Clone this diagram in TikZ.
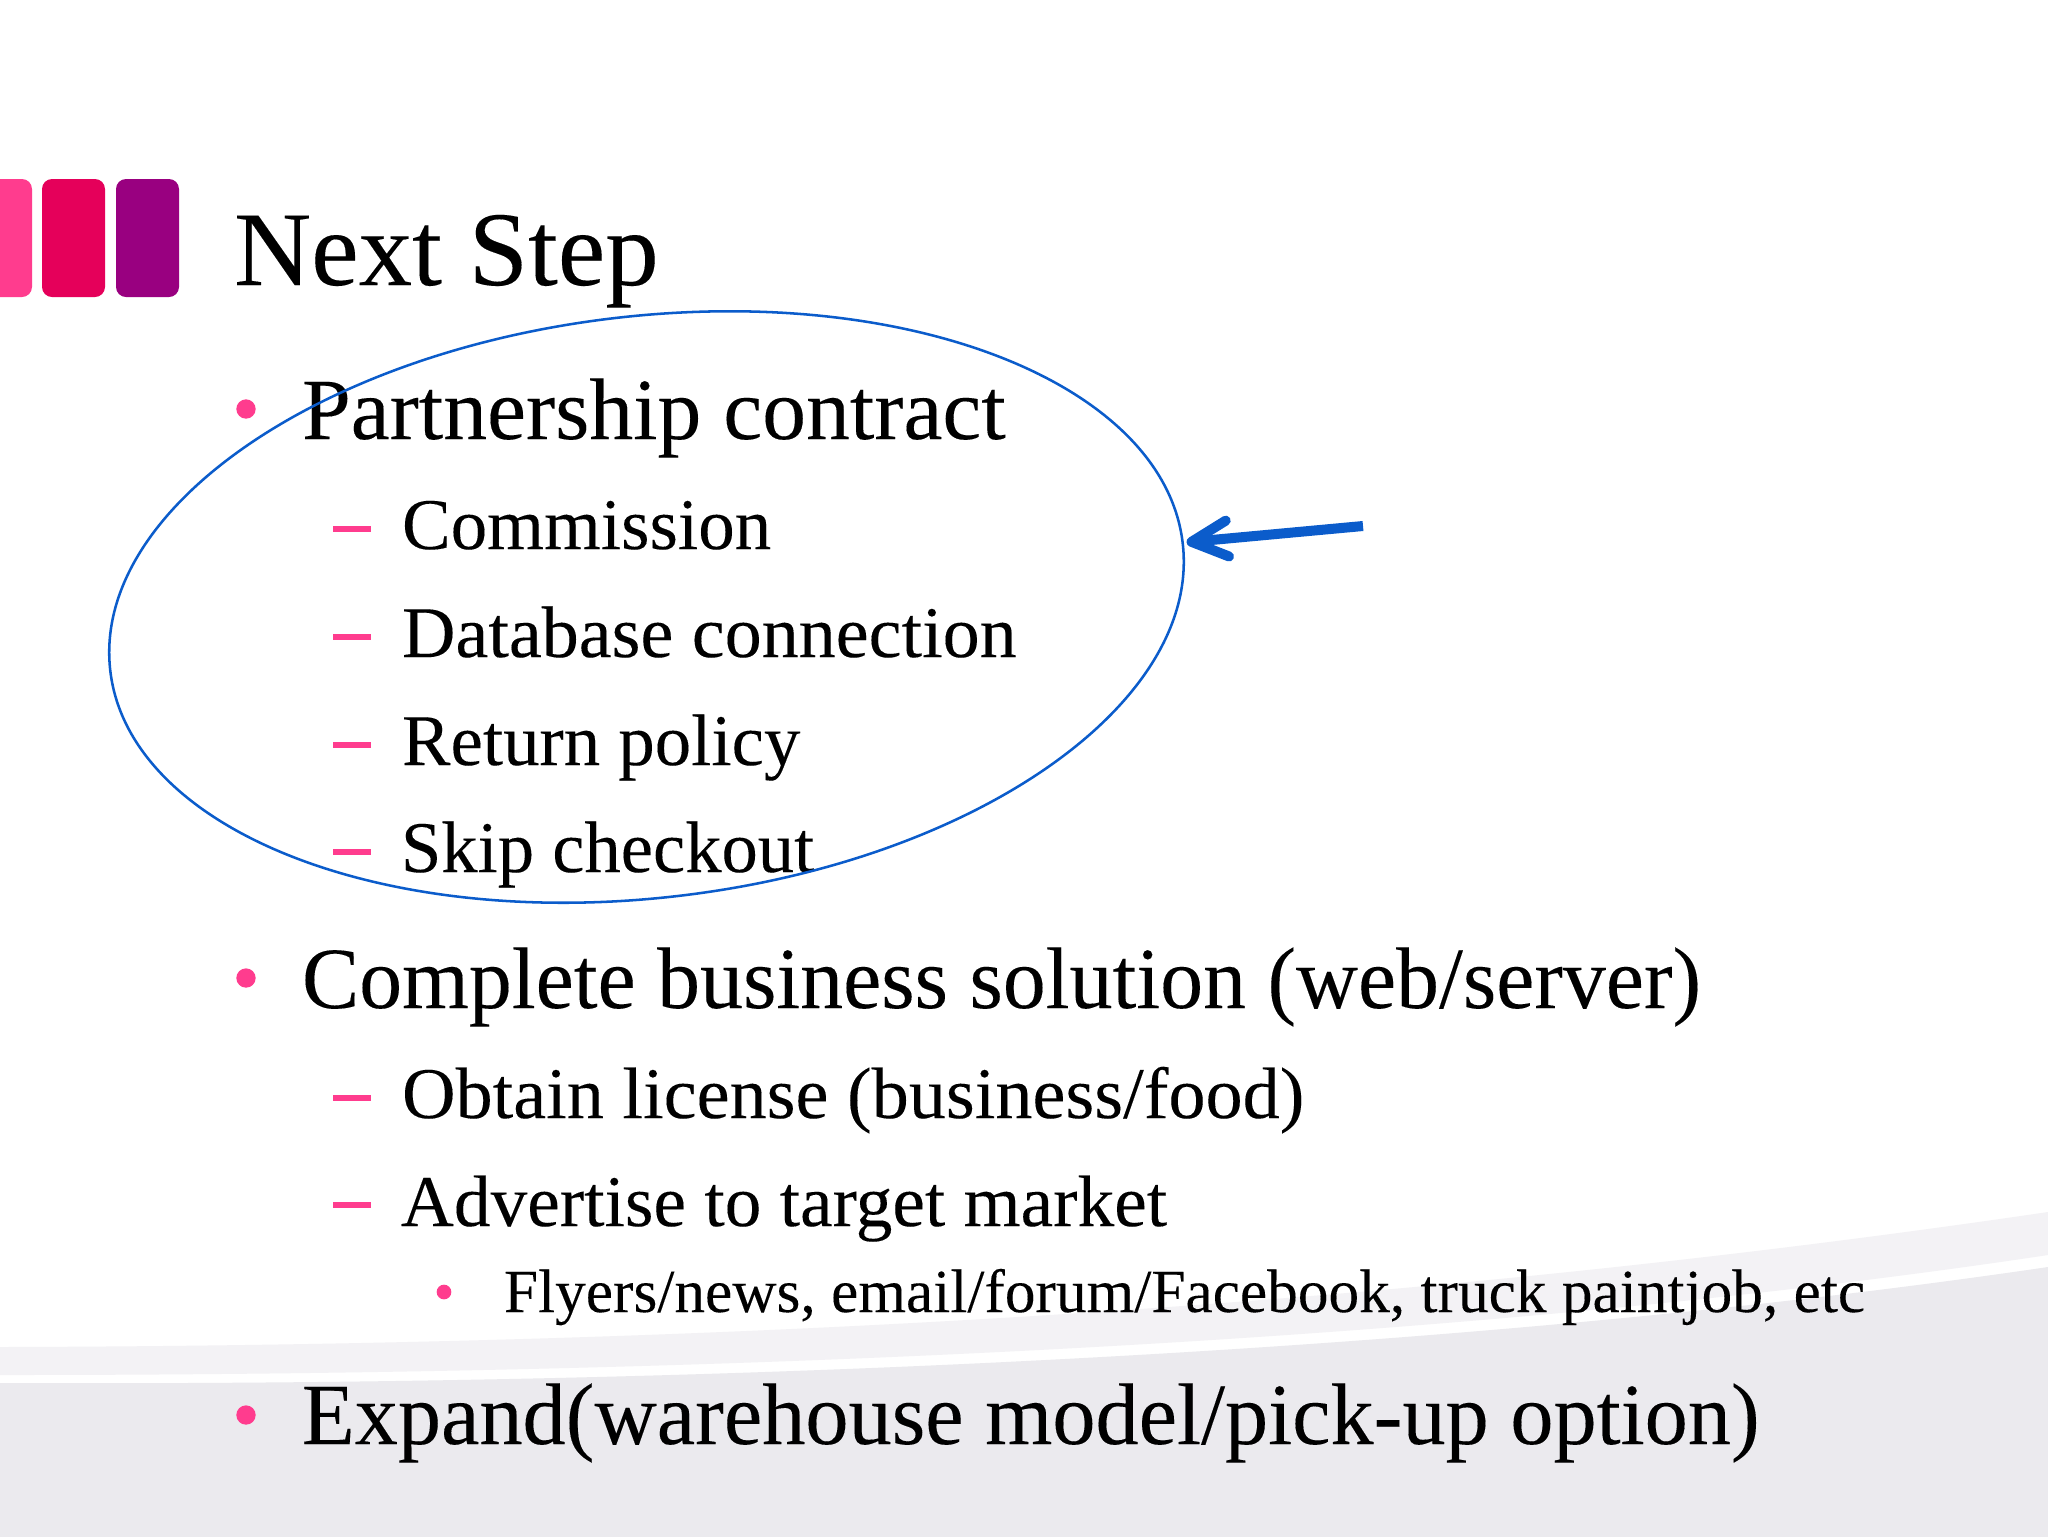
\documentclass[tikz,border=0pt]{standalone}
\usepackage{fontspec}
\setmainfont[FakeBold=0.12]{Liberation Serif}
\usetikzlibrary{shapes.geometric,arrows.meta}
\definecolor{pinkc}{HTML}{FF3C8E}
\definecolor{crimc}{HTML}{E5005A}
\definecolor{purpc}{HTML}{990080}
\definecolor{bluec}{HTML}{0B5CCB}
\definecolor{wavedark}{HTML}{EBEAEE}
\definecolor{wavelight}{HTML}{F3F2F5}
\newcommand{\fitx}[2]{\scalebox{#1}[1]{#2}}
\tikzset{
  x=0.75pt,y=-0.75pt,
  txt/.style={anchor=base west,inner sep=0pt,outer sep=0pt,text=black},
  titletxt/.style={txt,font=\fontsize{79.5pt}{80pt}\selectfont},
  lone/.style={txt,font=\fontsize{65.5pt}{66pt}\selectfont},
  ltwo/.style={txt,font=\fontsize{54.6pt}{55pt}\selectfont},
  lthree/.style={txt,font=\fontsize{46pt}{47pt}\selectfont},
  bulletbig/.style={circle,fill=pinkc,inner sep=0pt,minimum size=14.5pt},
  bulletsmall/.style={circle,fill=pinkc,inner sep=0pt,minimum size=11pt},
  dashmark/.style={rectangle,fill=pinkc,inner sep=0pt,minimum width=29pt,minimum height=4.4pt},
  barshape/.style={fill=#1,rounded corners=7.5pt},
}
\begin{document}
\begin{tikzpicture}
\useasboundingbox (0,0) rectangle (2048,1536);
\fill[white] (0,0) rectangle (2048,1536);
% background waves
\fill[wavelight] (0,1347) .. controls (800,1345) and (1450,1300) .. (2048,1212) -- (2048,1255) .. controls (1450,1345) and (700,1375) .. (0,1375) -- cycle;
\fill[wavedark] (0,1383) .. controls (700,1386) and (1450,1355) .. (2048,1267) -- (2048,1540) -- (0,1540) -- cycle;
% title bars
\fill[barshape=pinkc] (-20,179) rectangle (32,297);
\fill[barshape=crimc] (42,179) rectangle (105,297);
\fill[barshape=purpc] (116,179) rectangle (179,297);
% text
\node[titletxt] (title) at (234,285) {\fitx{1.009}{Next Step}};
\node[bulletbig] (b1) at (246,409) {};
\node[lone] (t1) at (302,439) {\fitx{1.004}{Partnership contract}};
\node[dashmark] (d1) at (352,529) {};
\node[ltwo] (t11) at (402,549) {\fitx{1.003}{Commission}};
\node[dashmark] (d2) at (352,637) {};
\node[ltwo] (t12) at (402,657) {\fitx{1.017}{Database connection}};
\node[dashmark] (d3) at (352,745) {};
\node[ltwo] (t13) at (402,765) {Return policy};
\node[dashmark] (d4) at (352,852) {};
\node[ltwo] (t14) at (401,872) {\fitx{0.997}{Skip checkout}};
\node[bulletbig] (b2) at (246,978) {};
\node[lone] (t2) at (302,1008) {\fitx{0.9826}{Complete business solution (web/server)}};
\node[dashmark] (d5) at (352,1098) {};
\node[ltwo] (t21) at (402,1118) {\fitx{1.019}{Obtain license (business/food)}};
\node[dashmark] (d6) at (352,1205) {};
\node[ltwo] (t22) at (401,1226) {\fitx{1.007}{Advertise to target market}};
\node[bulletsmall] (b3) at (444,1292) {};
\node[lthree] (t221) at (504,1312) {Flyers/news, email/forum/Facebook, truck paintjob, etc};
\node[bulletbig] (b4) at (246,1415) {};
\node[lone] (t3) at (302,1444) {\fitx{0.9885}{Expand(warehouse model/pick-up option)}};
% ellipse and arrow
\node[ellipse,draw=bluec,line width=1.9pt,inner sep=0pt,rotate=6.84,minimum width=810pt,minimum height=436pt] (oval) at (646.5,607) {};
\coordinate (tail) at (1363,526);
\draw[bluec,line width=7.5pt,shorten >=2pt,-{Straight Barb[round,length=27pt,width=27pt]}] (tail) -- (oval.east);
\end{tikzpicture}
\end{document}
